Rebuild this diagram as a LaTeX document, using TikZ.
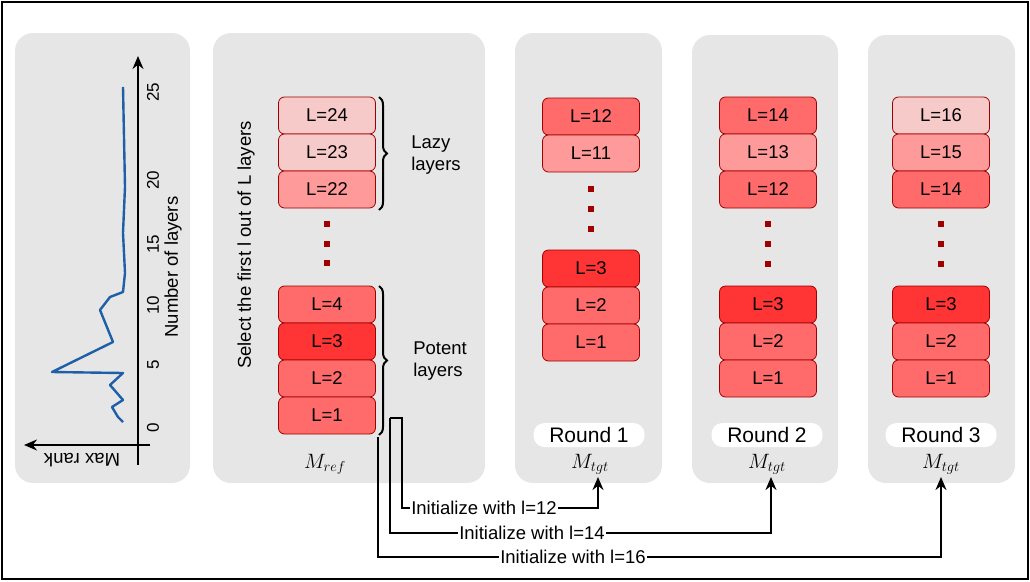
\documentclass[tikz,border=0pt]{standalone}
\usepackage{fontspec}
\setmainfont{Liberation Sans}
\usetikzlibrary{decorations.pathreplacing,arrows.meta}
\definecolor{pg}{HTML}{E6E6E6}
\definecolor{c1}{HTML}{F7CACA}
\definecolor{c2}{HTML}{FF9A9A}
\definecolor{c3}{HTML}{FF6B6B}
\definecolor{c4}{HTML}{FF3434}
\definecolor{bd}{HTML}{A00000}
\definecolor{bl}{HTML}{1F5FA8}
\begin{document}
\begin{tikzpicture}[x=1pt,y=-1pt,
 panel/.style={fill=pg,rounded corners=18pt},
 lay/.style={draw=bd,line width=0.8pt,rounded corners=6pt,minimum width=97pt,minimum height=37pt,inner sep=0pt,font=\fontsize{18.5}{20}\selectfont},
 dot/.style={fill=bd,minimum size=5.5pt,inner sep=0pt},
 pill/.style={fill=white,rounded corners=11pt,minimum width=111pt,minimum height=24pt,inner sep=0pt,font=\fontsize{21}{22}\selectfont},
 lbl/.style={font=\fontsize{18.5}{22}\selectfont},
 tick/.style={font=\fontsize{17}{20}\selectfont},
 mm/.style={font=\fontsize{22}{24}\selectfont},
 arr/.style={line width=2.2pt,-{Stealth[length=13pt,width=11pt]}},
 init/.style={fill=white,inner sep=1pt,font=\fontsize{18.5}{20}\selectfont}]
\useasboundingbox (0,0) rectangle (1030,581);
\draw[line width=2pt] (2,2) rectangle (1028,579);
\fill[panel] (15,33) rectangle (190,483);
\fill[panel] (213,33) rectangle (485,483);
\fill[panel] (515,33) rectangle (662,483);
\fill[panel] (692,35) rectangle (838,483);
\fill[panel] (868,35) rectangle (1015,483);
% chart
\draw[line width=2pt,-{Stealth[length=13pt,width=11pt]}] (138,465) -- (138,56);
\draw[line width=2pt,-{Stealth[length=13pt,width=11pt]}] (150,445) -- (24,445);
\foreach \v/\y in {0/428,5/365,10/305,15/244,20/180,25/92}
  \node[tick,rotate=90] (t\v) at (153,\y) {\v};
\node[lbl,rotate=90] (nl) at (173,267) {Number of layers};
\node[lbl,rotate=180] (mr) at (82,460) {Max rank};
\draw[bl,line width=2.4pt,line join=round] (123,422)--(118,417)--(112,407)--(123,400)--(110,385)--(123,373)--(52,372)--(113,342)--(100,310)--(110,297)--(123,292)--(125,273)--(123,233)--(125,187)--(123,87);
% Mref
\node[lay,fill=c1] (r24) at (327,115.5) {L=24};
\node[lay,fill=c1] (r23) at (327,152.5) {L=23};
\node[lay,fill=c2] (r22) at (327,189.5) {L=22};
\foreach \y [count=\i] in {224,244,263} \node[dot] (rd\i) at (327,\y) {};
\node[lay,fill=c3] (r4) at (327,304.5) {L=4};
\node[lay,fill=c4] (r3) at (327,341.5) {L=3};
\node[lay,fill=c3] (r2) at (327,378.5) {L=2};
\node[lay,fill=c3] (r1) at (327,415.5) {L=1};
\draw[line width=2pt,decorate,decoration={brace,amplitude=8pt}] (379,97) -- (379,210);
\draw[line width=2pt,decorate,decoration={brace,amplitude=8pt}] (379,286) -- (379,435);
\node[lbl,align=left] (lazy) at (436,155) {Lazy\\layers};
\node[lbl,align=left] (pot) at (440,361) {Potent\\layers};
\node[lbl,rotate=90] (sel) at (246,245) {Select the first l out of L layers};
\node[mm] (mref) at (325,464) {$M_{ref}$};
% Round 1
\node[lay,fill=c3] (a12) at (591,116.5) {L=12};
\node[lay,fill=c2] (a11) at (591,153.5) {L=11};
\foreach \y [count=\i] in {189,209,229} \node[dot] (ad\i) at (591,\y) {};
\node[lay,fill=c4] (a3) at (591,268.5) {L=3};
\node[lay,fill=c3] (a2) at (591,305.5) {L=2};
\node[lay,fill=c3] (a1) at (591,342.5) {L=1};
\node[pill] (p1) at (589,435) {Round 1};
\node[mm] (m1) at (590,464) {$M_{tgt}$};
% Round 2
\node[lay,fill=c3] (b14) at (768,115.5) {L=14};
\node[lay,fill=c2] (b13) at (768,152.5) {L=13};
\node[lay,fill=c3] (b12) at (768,189.5) {L=12};
\foreach \y [count=\i] in {224,244,264} \node[dot] (bd\i) at (768,\y) {};
\node[lay,fill=c4] (b3) at (768,304.5) {L=3};
\node[lay,fill=c3] (b2) at (768,341.5) {L=2};
\node[lay,fill=c3] (b1) at (768,378.5) {L=1};
\node[pill] (p2) at (767,435) {Round 2};
\node[mm] (m2) at (767,464) {$M_{tgt}$};
% Round 3
\node[lay,fill=c1] (c16) at (941,115.5) {L=16};
\node[lay,fill=c2] (c15) at (941,152.5) {L=15};
\node[lay,fill=c3] (c14) at (941,189.5) {L=14};
\foreach \y [count=\i] in {224,244,264} \node[dot] (cd\i) at (941,\y) {};
\node[lay,fill=c4] (c3) at (941,304.5) {L=3};
\node[lay,fill=c3] (c2) at (941,341.5) {L=2};
\node[lay,fill=c3] (c1) at (941,378.5) {L=1};
\node[pill] (p3) at (941,435) {Round 3};
\node[mm] (m3) at (941,464) {$M_{tgt}$};
% connectors
\coordinate (s1) at (390,418);
\coordinate (s3) at (378,437);
\draw[arr] (s1) -- (402,418) -- (402,508) -- (598,508) -- (598,477);
\draw[arr] (s1) -- (390,533) -- (771,533) -- (771,477);
\draw[arr] (s3) -- (378,557) -- (941,557) -- (941,477);
\node[init] (i1) at (484,508) {Initialize with l=12};
\node[init] (i2) at (532,533) {Initialize with l=14};
\node[init] (i3) at (573,557) {Initialize with l=16};
\end{tikzpicture}
\end{document}
